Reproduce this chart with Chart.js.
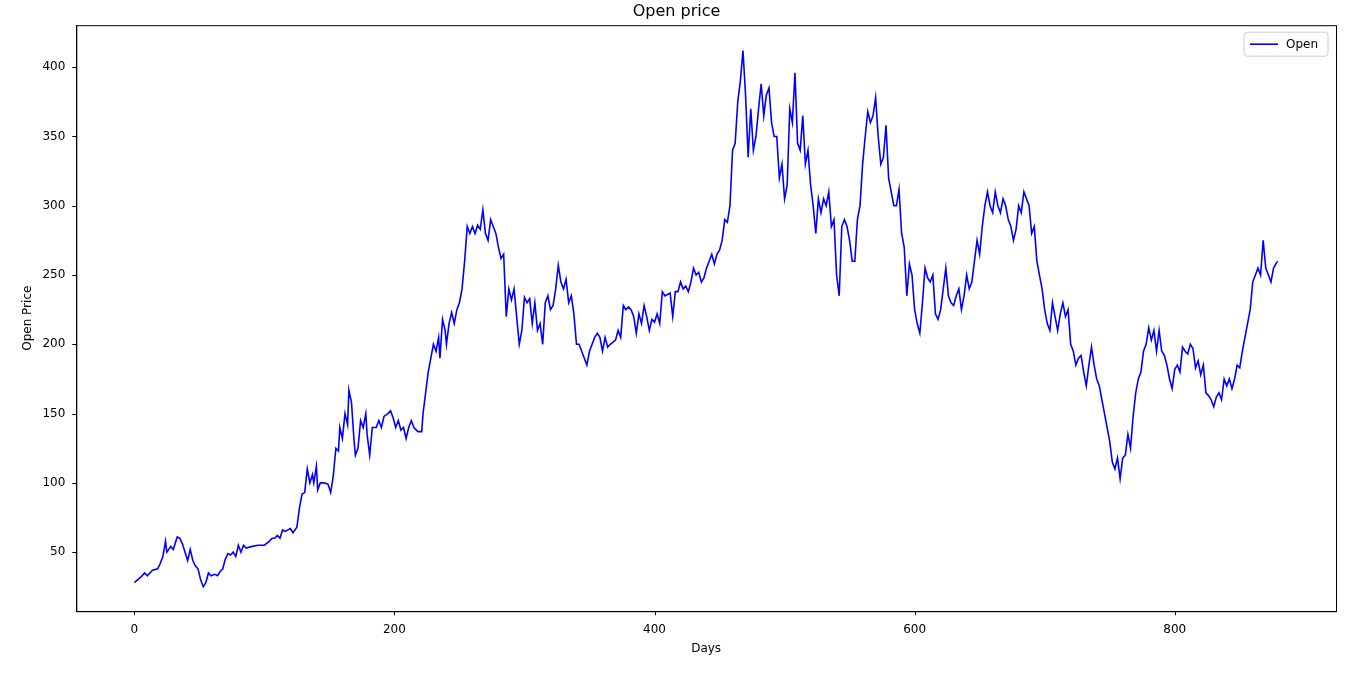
<!DOCTYPE html>
<html><head><meta charset="utf-8">
<script src="https://cdn.jsdelivr.net/npm/chart.js@4"></script>
<style>html,body{margin:0;padding:0;background:#fff}#w{width:1358px;height:676px;position:relative}</style>
</head><body><div id="w"><canvas id="c"></canvas></div>
<script>
const days=[0,5,8,10,14,18,20,22,24,25,28,30,33,35,37,39,41,43,45,47,49,51,53,55,57,59,62,64,66,68,70,72,74,76,78,80,82,84,86,90,95,100,104,106,108,110,112,114,116,120,122,125,127,129,131,133,135,137,138,140,141,143,146,149,151,153,155,157,158,160,162,164,165,167,169,170,172,174,176,178,179,181,183,186,188,190,192,195,197,199,201,203,205,207,209,211,213,215,218,221,222,224,226,228,230,232,234,235,237,239,240,242,244,246,248,250,252,254,256,258,260,262,264,266,268,270,272,274,276,278,280,282,284,286,288,290,292,294,296,298,300,302,304,306,308,310,312,314,316,318,320,322,324,326,328,330,332,334,336,338,340,342,344,346,348,350,352,354,356,358,360,362,364,366,370,372,374,376,378,380,382,384,386,388,390,392,394,396,398,400,402,404,406,408,410,412,414,416,418,420,422,424,426,428,430,432,434,436,438,440,442,444,446,448,450,452,454,456,458,460,462,464,466,468,470,472,474,476,478,480,482,484,486,488,490,492,494,496,498,500,502,504,506,508,510,512,514,516,518,520,522,524,526,528,530,532,534,536,538,540,542,544,546,548,550,552,554,556,558,560,562,564,566,568,570,572,574,576,578,580,582,584,586,588,590,592,594,596,598,600,602,604,606,608,610,612,614,616,618,620,622,624,626,628,630,632,634,636,638,640,642,644,646,648,650,652,654,656,658,660,662,664,666,668,670,672,674,676,678,680,682,684,686,688,690,692,694,696,698,700,702,704,706,708,710,712,714,716,718,720,722,724,726,728,730,732,734,736,738,740,742,744,746,748,750,752,754,756,758,760,762,764,766,768,770,772,774,776,778,780,782,784,786,788,790,792,794,796,798,800,802,804,806,808,810,812,814,816,818,820,822,824,826,828,830,832,834,836,838,840,842,844,846,848,850,852,854,856,858,860,862,864,866,868,870,872,874,876,879];
const openPrice=[28,32,35,33,37,38,42,47,58,50,54,52,61,60,56,50,44,52,44,40,38,30,25,28,35,33,34,33,36,38,45,49,48,50,47,55,50,55,53,54,55,55,58,60,60,62,60,66,65,67,64,68,82,92,93,110,100,106,100,112,95,100,100,99,93,105,125,123,140,132,150,142,167,158,130,120,125,145,140,150,135,120,140,140,145,140,148,150,152,147,140,145,138,140,132,140,145,140,137,137,150,165,180,190,200,195,205,190,218,210,200,215,223,215,225,230,240,260,285,280,285,280,286,283,297,280,275,290,285,280,270,262,265,220,240,232,240,220,200,210,234,230,233,215,230,210,215,200,230,235,225,228,240,257,245,240,247,230,235,222,200,200,195,190,185,195,200,205,208,205,195,205,198,200,203,210,205,228,225,227,225,220,208,222,215,228,220,210,218,216,222,215,238,235,236,237,220,238,238,245,240,242,238,245,255,250,252,245,248,255,260,265,258,265,268,275,290,288,300,340,345,375,390,412,380,335,370,340,350,370,388,365,380,385,360,350,350,320,330,305,315,370,360,396,345,340,365,330,340,315,300,280,305,295,305,300,310,285,290,250,235,285,290,285,275,260,260,290,300,330,350,368,360,365,378,350,330,335,358,320,310,300,300,312,280,270,235,258,250,225,215,208,230,255,248,245,250,222,218,225,240,255,235,230,228,235,240,225,235,250,240,245,260,275,265,285,300,310,300,295,310,300,295,305,300,290,285,275,283,300,295,310,305,300,280,285,260,250,240,225,215,210,230,220,210,222,230,220,225,200,195,185,190,192,180,170,185,198,185,175,170,160,150,140,130,115,110,118,103,118,120,135,125,148,165,175,180,195,200,212,203,210,195,210,195,192,185,175,168,182,185,180,198,195,193,200,197,183,188,178,185,165,163,160,155,162,165,160,175,170,175,168,175,185,183,195,205,215,225,245,250,255,250,275,255,250,245,255,260];
const xTicks=[0,200,400,600,800];
const yTicks=[50,100,150,200,250,300,350,400];
const F='"DejaVu Sans", sans-serif';
new Chart(document.getElementById('c'),{
type:'line',
data:{datasets:[{label:'Open',data:days.map((d,i)=>({x:d,y:openPrice[i]})),borderColor:'#0000ff',backgroundColor:'#0000ff',borderWidth:1.6,pointRadius:0,tension:0,fill:false}]},
options:{responsive:true,maintainAspectRatio:false,animation:false,
layout:{padding:{left:17,right:22,top:0,bottom:16}},
plugins:{title:{display:true,text:'Open price',color:'#000',font:{family:F,size:16,weight:'normal'},padding:{top:2,bottom:4}},
legend:{display:false},tooltip:{enabled:false}},
scales:{
x:{type:'linear',min:-44.6,max:924,border:{color:'#000',width:1},grid:{display:false,drawTicks:true},
 afterBuildTicks:a=>{a.ticks=xTicks.map(v=>({value:v}))},
 ticks:{color:'#000',font:{family:F,size:12},maxRotation:0},
 title:{display:true,text:'Days',color:'#000',font:{family:F,size:12},padding:{top:2}}},
y:{min:7.4,max:430.3,border:{color:'#000',width:1},grid:{display:false},
 afterBuildTicks:a=>{a.ticks=yTicks.map(v=>({value:v}))},
 ticks:{color:'#000',font:{family:F,size:12}},
 title:{display:true,text:'Open Price',color:'#000',font:{family:F,size:12}}}
}},
plugins:[{id:'frame',afterDraw(ch){const {ctx,chartArea:a,scales}=ch;ctx.save();ctx.strokeStyle='#000';ctx.lineWidth=1;
ctx.strokeRect(a.left+.5,a.top+.5,a.right-a.left,a.bottom-a.top);
ctx.beginPath();
xTicks.forEach(v=>{const x=Math.round(scales.x.getPixelForValue(v))+.5;ctx.moveTo(x,a.bottom);ctx.lineTo(x,a.bottom+4);});
yTicks.forEach(v=>{const y=Math.round(scales.y.getPixelForValue(v))+.5;ctx.moveTo(a.left,y);ctx.lineTo(a.left-4,y);});
ctx.stroke();
const lx=a.right-92,ly=a.top+7;ctx.strokeStyle='#ccc';ctx.fillStyle='rgba(255,255,255,0.8)';
ctx.beginPath();ctx.roundRect(lx,ly,84,24,3);ctx.fill();ctx.stroke();
ctx.strokeStyle='#0000ff';ctx.lineWidth=1.6;ctx.beginPath();ctx.moveTo(lx+6,ly+12);ctx.lineTo(lx+34,ly+12);ctx.stroke();
ctx.fillStyle='#000';ctx.font='12px '+F;ctx.textBaseline='middle';ctx.fillText('Open',lx+42,ly+12.5);
ctx.restore();}}]
});
</script></body></html>
